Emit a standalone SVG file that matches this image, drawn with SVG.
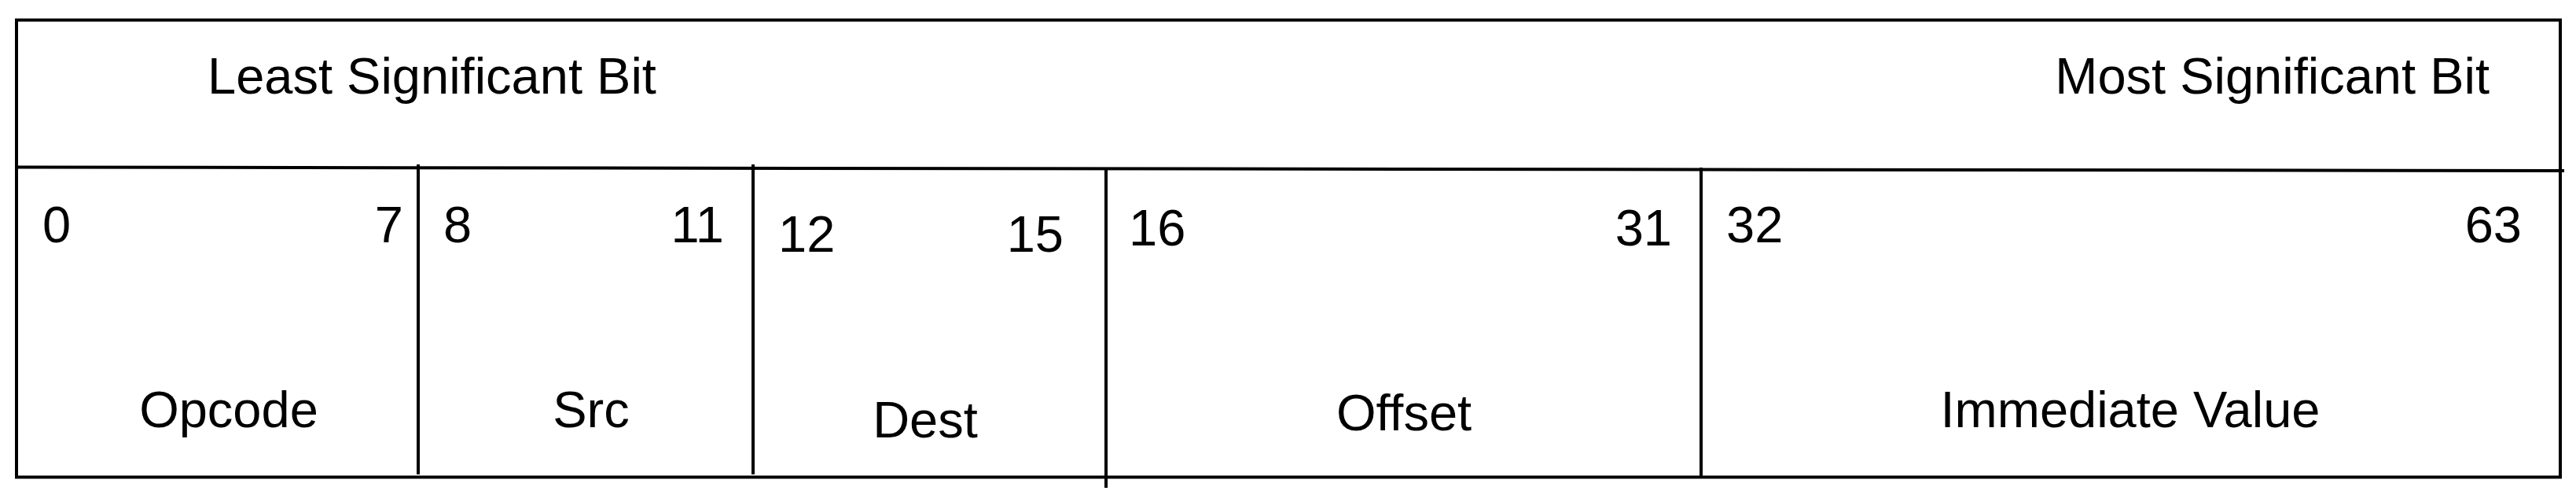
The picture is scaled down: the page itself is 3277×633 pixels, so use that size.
<svg xmlns="http://www.w3.org/2000/svg" width="3277" height="633" viewBox="0 0 3277 633">
<style>
.ln{stroke:#000;stroke-width:4;fill:none}
.t{font-family:"Liberation Sans",Arial,sans-serif;font-size:65px;fill:#000}
.m{text-anchor:middle}
.e{text-anchor:end}
</style>
<rect width="3277" height="633" fill="#fff"/>
<g id="frame">
<rect class="ln" x="21" y="25.5" width="3236" height="581"/>
<line class="ln" x1="21" y1="212.5" x2="3262" y2="217"/>
</g>
<g id="header">
<text class="t" x="264" y="119">Least Significant Bit</text>
<text class="t e" x="3167" y="119">Most Significant Bit</text>
</g>
<g id="connectors">
<line class="ln" x1="532" y1="209" x2="532" y2="603"/>
<line class="ln" x1="958" y1="209" x2="958" y2="603"/>
<line class="ln" x1="1407" y1="215" x2="1407" y2="620"/>
<line class="ln" x1="2164" y1="213" x2="2164" y2="605"/>
</g>
<g id="opcode">
<text class="t" x="54" y="308">0</text>
<text class="t e" x="513" y="308">7</text>
<text class="t m" x="291" y="543">Opcode</text>
</g>
<g id="src">
<text class="t" x="564" y="308">8</text>
<text class="t e" x="921" y="308">11</text>
<text class="t m" x="752" y="543">Src</text>
</g>
<g id="dest">
<text class="t" x="990" y="320">12</text>
<text class="t e" x="1353" y="320">15</text>
<text class="t m" x="1177" y="556">Dest</text>
</g>
<g id="offset">
<text class="t" x="1436" y="312">16</text>
<text class="t e" x="2127" y="312">31</text>
<text class="t m" x="1786" y="547">Offset</text>
</g>
<g id="immediate">
<text class="t" x="2196" y="308">32</text>
<text class="t e" x="3208" y="308">63</text>
<text class="t m" x="2710" y="543">Immediate Value</text>
</g>
</svg>
